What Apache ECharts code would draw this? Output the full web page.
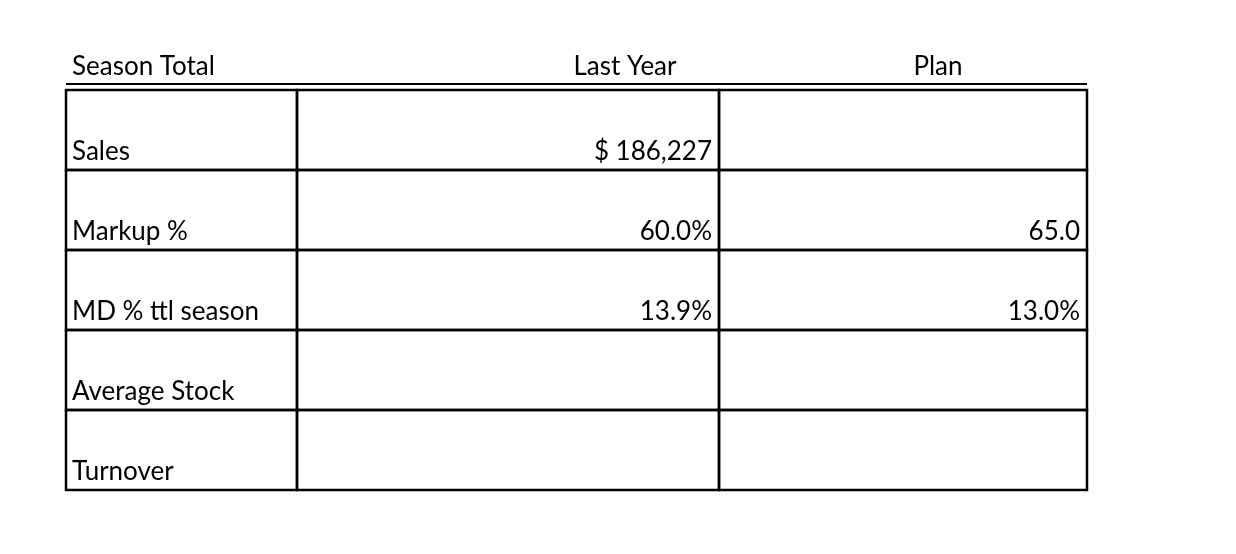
<!DOCTYPE html>
<html><head><meta charset="utf-8">
<script src="https://cdn.jsdelivr.net/npm/echarts@6/dist/echarts.min.js"></script>
<style>html,body{margin:0;padding:0;background:#fff}#c{width:1236px;height:554px}</style>
</head><body><div id="c"></div>
<script>
var headers = ['Season Total', 'Last Year', 'Plan'];
var rowLabels = ['Sales', 'Markup %', 'MD % ttl season', 'Average Stock', 'Turnover'];
var lastYear = ['$ 186,227', '60.0%', '13.9%', '', ''];
var plan = ['', '65.0', '13.0%', '', ''];

var colEdges = [0, 231, 653, 1021];
var headerX = [6, 559, 872];
var FONT = 'Lato, "Open Sans", sans-serif';

var data = [];
headers.forEach(function (h, c) { data.push([c, -1, h]); });
rowLabels.forEach(function (l, r) {
  data.push([0, r, l]);
  data.push([1, r, lastYear[r]]);
  data.push([2, r, plan[r]]);
});

var chart = echarts.init(document.getElementById('c'));
chart.setOption({
  animation: false,
  grid: { left: 66, right: 149, top: 90, bottom: 64 },
  xAxis: { type: 'value', min: 0, max: 1021, show: false },
  yAxis: { type: 'value', min: 0, max: 5, inverse: true, show: false },
  series: [{
    type: 'custom',
    clip: false,
    data: data,
    renderItem: function (params, api) {
      var c = api.value(0), r = api.value(1), txt = data[params.dataIndex][2];
      var children = [];
      if (r < 0) {
        var p = api.coord([headerX[c], 0]);
        children.push({ type: 'text', style: { x: p[0], y: p[1] - 10, text: txt,
          font: '26px ' + FONT, fill: '#000', align: c === 0 ? 'left' : 'center', verticalAlign: 'bottom' } });
        if (c === 0) {
          var a = api.coord([0, 0]), b = api.coord([1021, 0]);
          children.push({ type: 'line', shape: { x1: a[0], y1: a[1] - 6, x2: b[0], y2: b[1] - 6 }, style: { stroke: '#000', lineWidth: 2 } });
        }
        return { type: 'group', children: children };
      }
      var tl = api.coord([colEdges[c], r]), br = api.coord([colEdges[c + 1], r + 1]);
      children.push({ type: 'rect', shape: { x: tl[0], y: tl[1], width: br[0] - tl[0], height: br[1] - tl[1] },
        style: { fill: 'none', stroke: '#000', lineWidth: 2.5 } });
      if (txt) {
        children.push({ type: 'text', style: {
          x: c === 0 ? tl[0] + 6 : br[0] - 7, y: br[1] - 5, text: txt,
          font: '26px ' + FONT, fill: '#000', align: c === 0 ? 'left' : 'right', verticalAlign: 'bottom' } });
      }
      return { type: 'group', children: children };
    }
  }]
});
</script></body></html>
